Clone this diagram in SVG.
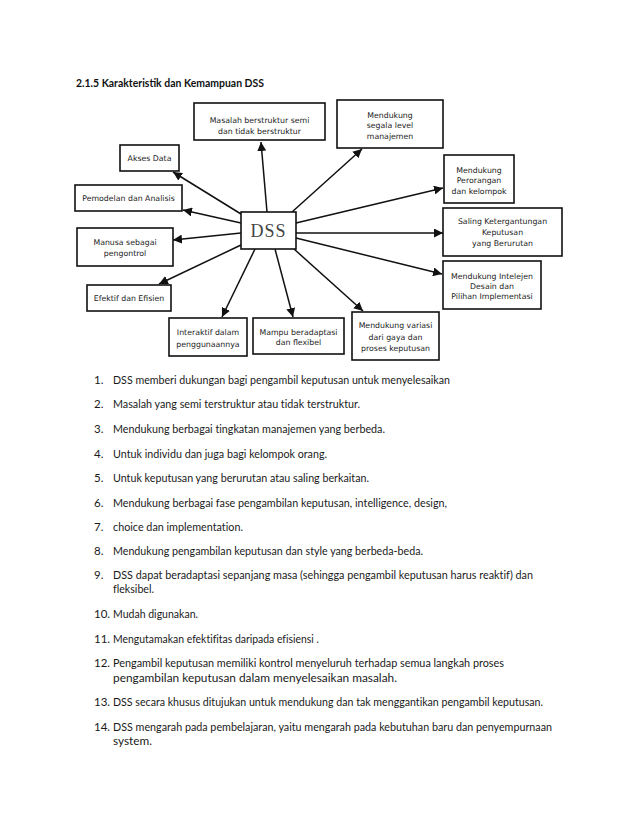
<svg xmlns="http://www.w3.org/2000/svg" width="638" height="826" viewBox="0 0 638 826">
<style>
.box{fill:#fff;stroke:#111;stroke-width:1.6}
.lbl{font-family:"DejaVu Sans",Verdana,sans-serif;font-size:7.8px;fill:#222;text-anchor:middle}
.dss{font-family:"Liberation Serif",serif;font-size:18px;fill:#444;text-anchor:middle;letter-spacing:1px}
.con{stroke:#111;stroke-width:1.5;fill:none;marker-end:url(#ah)}
.body{font-family:Lato,"Open Sans",sans-serif;font-size:11.5px;fill:#1a1a1a;font-variant-ligatures:none}
.title{font-family:Lato,"Open Sans",sans-serif;font-size:12px;font-weight:bold;fill:#111}
</style>
<defs>
<marker id="ah" viewBox="0 0 10 10" refX="10" refY="5" markerWidth="6" markerHeight="6" orient="auto" markerUnits="strokeWidth">
<path d="M0,0 L10,5 L0,10 z" fill="#111"/>
</marker>
</defs>
<rect width="638" height="826" fill="#fff"/>
<text class="title" x="76" y="87" textLength="188" lengthAdjust="spacingAndGlyphs">2.1.5 Karakteristik dan Kemampuan DSS</text>

<g id="connectors">
<line class="con" x1="267" y1="212" x2="261" y2="142"/>
<line class="con" x1="292" y1="212" x2="362" y2="149"/>
<line class="con" x1="296" y1="223" x2="443" y2="188"/>
<line class="con" x1="296" y1="233" x2="443" y2="233"/>
<line class="con" x1="296" y1="238" x2="442" y2="274"/>
<line class="con" x1="294" y1="249" x2="363" y2="311"/>
<line class="con" x1="275" y1="249" x2="293" y2="317"/>
<line class="con" x1="255" y1="249" x2="222" y2="317"/>
<line class="con" x1="241" y1="245" x2="159" y2="284"/>
<line class="con" x1="241" y1="233" x2="173" y2="240"/>
<line class="con" x1="241" y1="223" x2="183" y2="210"/>
<line class="con" x1="241" y1="214" x2="173" y2="172"/>
</g>

<g id="dss"><rect class="box" x="241" y="212" width="55" height="37"/><text class="dss" x="268.5" y="237">DSS</text></g>
<g id="masalah"><rect class="box" x="194" y="103" width="131" height="37"/><text class="lbl" x="259.5" y="123">Masalah berstruktur semi</text><text class="lbl" x="259.5" y="134">dan tidak berstruktur</text></g>
<g id="segala"><rect class="box" x="337" y="100" width="106" height="48"/><text class="lbl" x="390" y="118">Mendukung</text><text class="lbl" x="390" y="128">segala level</text><text class="lbl" x="390" y="139">manajemen</text></g>
<g id="perorangan"><rect class="box" x="444" y="155" width="70" height="48"/><text class="lbl" x="479" y="173">Mendukung</text><text class="lbl" x="479" y="183">Perorangan</text><text class="lbl" x="479" y="194">dan kelompok</text></g>
<g id="saling"><rect class="box" x="443" y="208" width="119" height="48"/><text class="lbl" x="502.5" y="224">Saling Ketergantungan</text><text class="lbl" x="502.5" y="235">Keputusan</text><text class="lbl" x="502.5" y="246">yang Berurutan</text></g>
<g id="intelejen"><rect class="box" x="443" y="261" width="98" height="48"/><text class="lbl" x="492" y="279">Mendukung Intelejen</text><text class="lbl" x="492" y="289">Desain dan</text><text class="lbl" x="492" y="299">Pilihan Implementasi</text></g>
<g id="variasi"><rect class="box" x="352" y="312" width="87" height="48"/><text class="lbl" x="395.5" y="328">Mendukung variasi</text><text class="lbl" x="395.5" y="340">dari gaya dan</text><text class="lbl" x="395.5" y="351">proses keputusan</text></g>
<g id="mampu"><rect class="box" x="253" y="318" width="91" height="36"/><text class="lbl" x="298.5" y="335">Mampu beradaptasi</text><text class="lbl" x="298.5" y="345">dan flexibel</text></g>
<g id="interaktif"><rect class="box" x="169" y="318" width="78" height="38"/><text class="lbl" x="208" y="335">Interaktif dalam</text><text class="lbl" x="208" y="347">penggunaannya</text></g>
<g id="efektif"><rect class="box" x="87" y="285" width="84" height="26"/><text class="lbl" x="129" y="301">Efektif dan Efisien</text></g>
<g id="manusa"><rect class="box" x="77" y="228" width="96" height="38"/><text class="lbl" x="125" y="245">Manusa sebagai</text><text class="lbl" x="125" y="256">pengontrol</text></g>
<g id="pemodelan"><rect class="box" x="75" y="185" width="107" height="26"/><text class="lbl" x="128.5" y="201">Pemodelan dan Analisis</text></g>
<g id="akses"><rect class="box" x="120" y="145" width="59" height="26"/><text class="lbl" x="149.5" y="161">Akses Data</text></g>

<g id="list" class="body">
<text x="94" y="384">1.</text><text x="113" y="384" textLength="337" lengthAdjust="spacingAndGlyphs">DSS memberi dukungan bagi pengambil keputusan untuk menyelesaikan</text>
<text x="94" y="408">2.</text><text x="113" y="408" textLength="247" lengthAdjust="spacingAndGlyphs">Masalah yang semi terstruktur atau tidak terstruktur.</text>
<text x="94" y="433">3.</text><text x="113" y="433" textLength="272" lengthAdjust="spacingAndGlyphs">Mendukung berbagai tingkatan manajemen yang berbeda.</text>
<text x="94" y="458">4.</text><text x="113" y="458" textLength="214" lengthAdjust="spacingAndGlyphs">Untuk individu dan juga bagi kelompok orang.</text>
<text x="94" y="482">5.</text><text x="113" y="482" textLength="256" lengthAdjust="spacingAndGlyphs">Untuk keputusan yang berurutan atau saling berkaitan.</text>
<text x="94" y="507">6.</text><text x="113" y="507" textLength="334" lengthAdjust="spacingAndGlyphs">Mendukung berbagai fase pengambilan keputusan, intelligence, design,</text>
<text x="94" y="531">7.</text><text x="113" y="531" textLength="130" lengthAdjust="spacingAndGlyphs">choice dan implementation.</text>
<text x="94" y="555">8.</text><text x="113" y="555" textLength="310" lengthAdjust="spacingAndGlyphs">Mendukung pengambilan keputusan dan style yang berbeda-beda.</text>
<text x="94" y="579">9.</text><text x="113" y="579" textLength="420" lengthAdjust="spacingAndGlyphs">DSS dapat beradaptasi sepanjang masa  (sehingga pengambil keputusan harus reaktif) dan</text>
<text x="113" y="593" textLength="41" lengthAdjust="spacingAndGlyphs">fleksibel.</text>
<text x="94" y="618">10.</text><text x="113" y="618" textLength="85" lengthAdjust="spacingAndGlyphs">Mudah digunakan.</text>
<text x="94" y="643">11.</text><text x="113" y="643" textLength="206" lengthAdjust="spacingAndGlyphs">Mengutamakan efektifitas daripada efisiensi .</text>
<text x="94" y="667">12.</text><text x="113" y="667" textLength="391" lengthAdjust="spacingAndGlyphs">Pengambil  keputusan memiliki kontrol menyeluruh terhadap semua langkah proses</text>
<text x="113" y="682" textLength="284" lengthAdjust="spacingAndGlyphs">pengambilan keputusan dalam menyelesaikan masalah.</text>
<text x="94" y="706">13.</text><text x="113" y="706" textLength="430" lengthAdjust="spacingAndGlyphs">DSS secara khusus ditujukan untuk mendukung dan tak menggantikan pengambil keputusan.</text>
<text x="94" y="731">14.</text><text x="113" y="731" textLength="439" lengthAdjust="spacingAndGlyphs">DSS mengarah pada pembelajaran, yaitu mengarah pada kebutuhan baru dan penyempurnaan</text>
<text x="113" y="745" textLength="39" lengthAdjust="spacingAndGlyphs">system.</text>
</g>
</svg>
